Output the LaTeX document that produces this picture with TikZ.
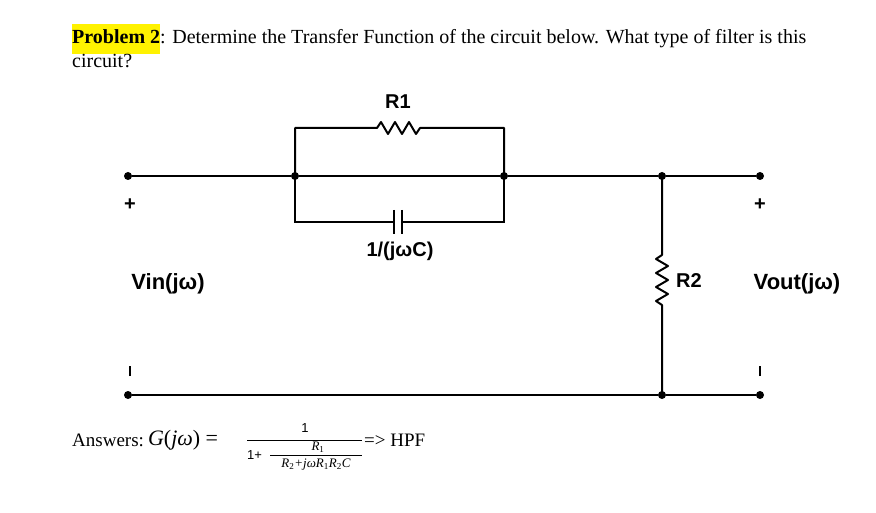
\documentclass[tikz,border=0pt]{standalone}
\usepackage{fontspec}
\setmainfont{Liberation Serif}
\newfontfamily\lbl{Liberation Sans}
\begin{document}
\begin{tikzpicture}[x=1pt,y=-1pt,
  wire/.style={line width=2pt},
  dotn/.style={circle,fill,inner sep=0pt,minimum size=8pt},
  clbl/.style={font=\lbl\bfseries\fontsize{20}{24}\selectfont},
  ttl/.style={font=\fontsize{20}{24}\selectfont,anchor=west,inner sep=0pt},
  frac/.style={inner sep=0pt,font=\lbl\fontsize{13}{15}\selectfont},
  sfrac/.style={inner sep=0pt,font=\fontsize{13}{15}\selectfont\itshape}]
\useasboundingbox (0,0) rectangle (876,513);
% title
\node[ttl] (t1) at (72,39) {\colorbox{yellow}{\hspace*{-\fboxsep}\strut\textbf{Problem 2}\hspace*{-\fboxsep}}: Determine the Transfer Function of the circuit below. What type of filter is this};
\node[ttl] (t2) at (72,61) {circuit?};
% nodes
\node[dotn] (a) at (128,176) {};
\node[dotn] (b) at (295,176) {};
\node[dotn] (c) at (504,176) {};
\node[dotn] (d) at (662,176) {};
\node[dotn] (e) at (760,176) {};
\node[dotn] (f) at (128,395) {};
\node[dotn] (g) at (662,395) {};
\node[dotn] (h) at (760,395) {};
\coordinate (btl) at (295,128); \coordinate (btr) at (504,128);
\coordinate (bbl) at (295,222); \coordinate (bbr) at (504,222);
\draw[wire] (a) -- (b) -- (c) -- (d) -- (e);
\draw[wire] (f) -- (g) -- (h);
% R1 branch
\draw[wire,line join=round] (b.center) -- (btl) -- (377,128) -- (381,122) -- (388,134) -- (395,122) -- (402,134) -- (409,122) -- (416,134) -- (420,128) -- (btr) -- (c.center);
% C branch
\draw[wire] (b.center) -- (bbl) -- (394,222);
\draw[wire] (394,210) -- (394,234);
\draw[wire] (402,210) -- (402,234);
\draw[wire] (402,222) -- (bbr) -- (c.center);
% R2
\draw[wire,line join=round] (d.center) -- (662,255) -- (656,259) -- (668,266) -- (656,273) -- (668,280) -- (656,287) -- (668,294) -- (656,301) -- (662,305) -- (g.center);
% labels
\node[clbl] (r1) at (398,102) {R1};
\node[clbl] (cl) at (400,251) {1/(jωC)};
\node[clbl] (r2) at (689,281) {R2};
\node[clbl,font=\lbl\bfseries\fontsize{22}{26}\selectfont] (vin) at (168,284) {Vin(jω)};
\node[clbl,font=\lbl\bfseries\fontsize{22}{26}\selectfont] (vout) at (797,284) {Vout(jω)};
\node[clbl] (p1) at (130,205) {+};
\node[clbl] (p2) at (760,205) {+};
\node[clbl] (m1) at (130,371) {\rule{2pt}{10pt}};
\node[clbl] (m2) at (760,371) {\rule{2pt}{10pt}};
% answer
\node[anchor=west,inner sep=0pt,font=\fontsize{19}{22}\selectfont] (ans) at (72,440) {Answers:};
\node[anchor=west,inner sep=0pt,font=\fontsize{22}{26}\selectfont] (gj) at (ans.east) {\,\textit{G}(\textit{jω}) =};
\node[frac] (one) at (305,428) {1};
\coordinate (fl) at (247,440); \coordinate (fr) at (362,440);
\draw[line width=0.8pt] (fl) -- (fr);
\node[frac,anchor=west] (onep) at (247,455) {1+};
\node[sfrac] (rr1) at (318,447) {R\textsubscript{\upshape 1}};
\coordinate (sl) at (270,455); \coordinate (sr) at (362,455);
\draw[line width=0.7pt] (sl) -- (sr);
\node[sfrac] (den) at (316,465) {R\textsubscript{\upshape 2}+jωR\textsubscript{\upshape 1}R\textsubscript{\upshape 2}C};
\node[anchor=west,inner sep=0pt,font=\fontsize{19}{22}\selectfont] (hpf) at (364,440) {=> HPF};
\end{tikzpicture}
\end{document}
